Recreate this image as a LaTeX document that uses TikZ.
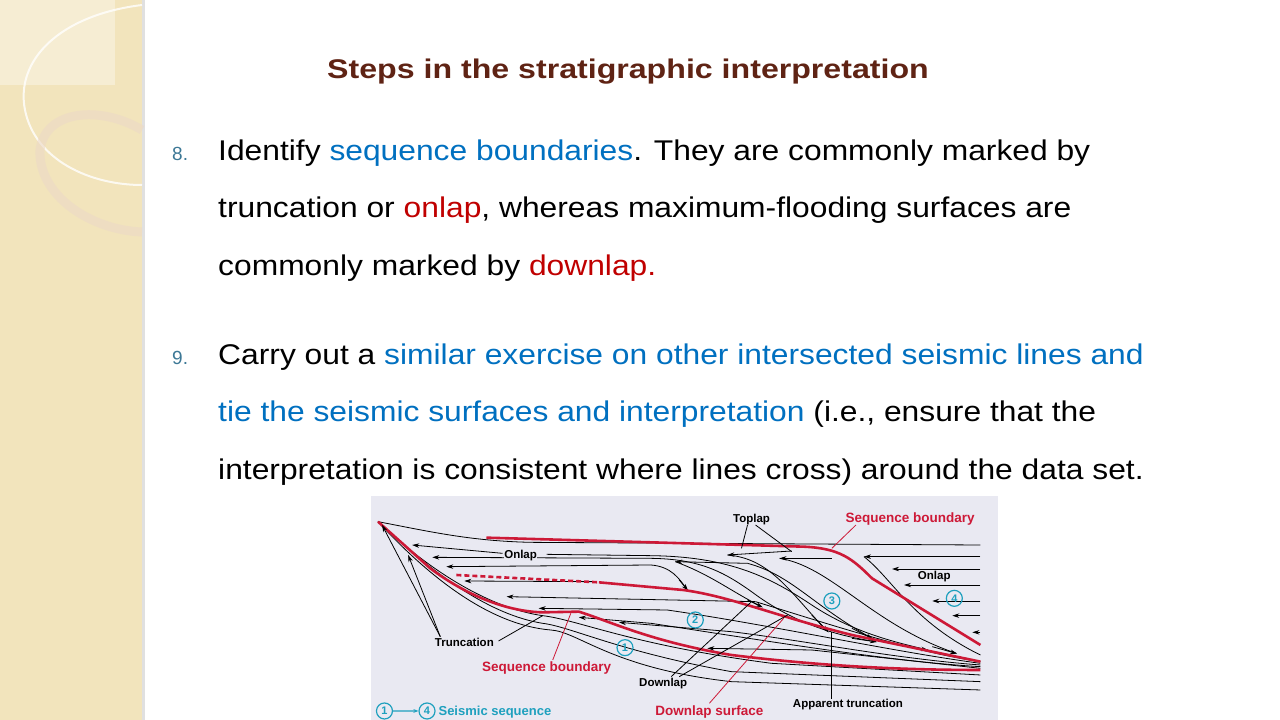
\documentclass[tikz,border=0pt]{standalone}
\usepackage{fontspec}
\setmainfont{Liberation Sans}
\usetikzlibrary{arrows.meta}
\definecolor{tblue}{RGB}{0,112,192}
\definecolor{tred}{RGB}{192,0,0}
\definecolor{ttitle}{RGB}{95,35,20}
\definecolor{tnum}{RGB}{60,120,150}
\definecolor{beige}{RGB}{242,228,188}
\definecolor{dbg}{RGB}{233,233,242}
\definecolor{sred}{RGB}{205,25,55}
\definecolor{scyan}{RGB}{30,160,190}
\begin{document}
\begin{tikzpicture}[x=1pt,y=-1pt,
  body/.style={anchor=base west,font=\fontsize{28.5}{30}\selectfont,inner sep=0,xscale=1.115},
  num/.style={anchor=base west,font=\fontsize{19}{20}\selectfont,text=tnum,inner sep=0},
  lab/.style={font=\bfseries\fontsize{11.5}{12}\selectfont,inner sep=1pt},
  rlab/.style={font=\bfseries\fontsize{13.5}{14}\selectfont,text=sred,inner sep=1pt},
  bl/.style={line width=0.8pt,black},
  rl/.style={line width=2.6pt,sred},
  ar/.style={-{Stealth[length=7pt,width=4.5pt]}},
  seq/.style={circle,draw=scyan,line width=1.2pt,text=scyan,font=\bfseries\fontsize{11}{11}\selectfont,inner sep=0,minimum size=16pt}]
\useasboundingbox (0,0) rectangle (1280,720);
\fill[white] (0,0) rectangle (1280,720);
\fill[beige] (0,0) rectangle (142,720);
\fill[black!12] (142,0) rectangle (145,720);
\draw[white,line width=2pt,opacity=0.8] (142,5) .. controls (60,15) and (15,60) .. (25,110) .. controls (35,160) and (90,185) .. (142,185);
\draw[brown!30,line width=9pt,opacity=0.6] (142,130) .. controls (100,105) and (45,110) .. (40,150) .. controls (38,195) and (90,230) .. (142,232);
\fill[white,opacity=0.35] (0,0) rectangle (115,85);
%
\node[font=\bfseries\fontsize{27}{28}\selectfont,text=ttitle,xscale=1.19] (title) at (628,72) {Steps in the stratigraphic interpretation};
\node[num] (n8) at (172,160) {8.};
\node[body] (l1) at (218,160) {Identify \textcolor{tblue}{sequence boundaries}. They are commonly marked by};
\node[body] (l2) at (218,217) {truncation or \textcolor{tred}{onlap}, whereas maximum-flooding surfaces are};
\node[body] (l3) at (218,275) {commonly marked by \textcolor{tred}{downlap.}};
\node[num] (n9) at (172,364) {9.};
\node[body] (l4) at (218,364) {Carry out a \textcolor{tblue}{similar exercise on other intersected seismic lines and}};
\node[body] (l5) at (218,421) {\textcolor{tblue}{tie the seismic surfaces and interpretation} (i.e., ensure that the};
\node[body] (l6) at (218,479) {interpretation is consistent where lines cross) around the data set.};
%
\fill[dbg] (371,496) rectangle (998,720);
\begin{scope}[shift={(370,495)},xscale=0.4016,yscale=0.3333]
% bottom lines
\draw[bl] (20,80) .. controls (150,250) and (300,390) .. (450,405) .. controls (520,410) and (600,520) .. (900,560) -- (1520,585);
\draw[bl] (20,80) .. controls (160,240) and (300,360) .. (430,385) .. controls (500,395) and (620,470) .. (900,530) -- (1520,560);
\draw[bl] (20,80) .. controls (150,230) and (300,340) .. (430,362) .. controls (520,375) and (650,450) .. (1000,505) -- (1520,540);
% top line
\draw[bl] (20,80) .. controls (150,110) and (250,138) .. (400,142) -- (1520,150);
% right onlap lines
\foreach \y/\xs in {185/1230,222/1300,270/1330,318/1400,362/1450,412/1500}{
  \draw[bl,ar] (1520,\y) -- (\xs,\y);}
% left onlap/clinoform lines
\draw[bl,ar] (330,175) -- (105,150);
\draw[bl] (440,178) -- (700,182) .. controls (900,185) and (1000,250) .. (1100,330) .. controls (1200,410) and (1300,440) .. (1390,465);
\draw[bl,ar] (1300,445) -- (1390,466);
\draw[bl,ar] (700,190) -- (155,187);
\draw[bl] (700,190) .. controls (820,192) and (880,230) .. (950,290) .. controls (1050,380) and (1150,420) .. (1260,440);
\draw[bl,ar] (1200,430) -- (1262,441);
\draw[bl,ar] (700,210) -- (190,215);
\draw[bl] (700,210) .. controls (750,215) and (770,250) .. (790,285);
\draw[bl,ar] (770,255) -- (792,287);
% toplap clinoforms from top boundary
\draw[bl,ar] (1050,168) -- (890,180);
\draw[bl] (890,180) .. controls (1000,190) and (1050,300) .. (1140,410);
\draw[bl,ar] (1100,360) -- (1142,412);
\draw[bl,ar] (1150,190) -- (1020,190);
\draw[bl] (1020,190) .. controls (1150,215) and (1250,390) .. (1460,475);
\draw[bl,ar] (1400,455) -- (1462,476);
\draw[bl] (1230,185) .. controls (1300,250) and (1350,380) .. (1520,480);
\draw[bl,ar] (940,205) -- (760,200);
\draw[bl] (940,205) .. controls (1050,240) and (1100,330) .. (1250,430);
\draw[bl,ar] (1200,400) -- (1252,432);
\draw[bl] (760,200) .. controls (850,240) and (900,290) .. (975,335);
\draw[bl,ar] (940,315) -- (978,337);
% sequence 2 lines
\draw[bl,ar] (560,260) -- (235,258);
\draw[bl,ar] (960,320) -- (340,305);
\draw[bl] (960,320) .. controls (1150,390) and (1350,470) .. (1520,500);
\draw[bl,ar] (740,345) -- (420,340);
\draw[bl] (740,345) .. controls (1000,390) and (1300,470) .. (1520,505);
% sequence 1 lines
\draw[bl,ar] (700,385) -- (520,367);
\draw[bl] (700,385) .. controls (1000,440) and (1300,500) .. (1520,515);
\draw[bl,ar] (900,410) -- (620,382);
\draw[bl] (900,410) .. controls (1100,440) and (1300,490) .. (1520,510);
\draw[bl,ar] (1100,465) -- (840,460);
\draw[bl] (1100,465) -- (1520,520);
% red surfaces
\draw[rl] (290,128) -- (1080,155) .. controls (1170,160) and (1200,190) .. (1250,250) -- (1520,450);
\draw[sred,line width=2.6pt,dash pattern=on 5pt off 3pt] (215,240) -- (570,262);
\draw[rl] (570,262) -- (780,285) .. controls (900,305) and (1000,360) .. (1200,420) -- (1520,500);
\draw[rl] (20,80) -- (150,220) .. controls (250,310) and (350,350) .. (430,352) -- (520,350) .. controls (600,380) and (700,440) .. (900,480) .. controls (1100,510) and (1300,525) .. (1520,525);
% labels and pointers
\node[lab] (toplap) at (950,75) {Toplap};
\draw[bl] (940,90) -- (925,160);
\draw[bl] (960,90) -- (1050,170);
\node[rlab] (sb1) at (1345,72) {Sequence boundary};
\draw[sred,line width=0.8pt] (1210,90) -- (1150,160);
\node[lab,fill=dbg,inner sep=0.5pt] (onl1) at (375,182) {Onlap};
\node[lab] (onl2) at (1405,245) {Onlap};
\node[lab] (trunc) at (235,442) {Truncation};
\draw[bl,ar] (175,425) -- (30,90);
\draw[bl,ar] (175,425) -- (95,180);
\draw[bl] (320,438) -- (430,362);
\node[rlab] (sb2) at (440,520) {Sequence boundary};
\draw[sred,line width=0.8pt] (455,495) -- (500,355);
\node[lab] (downlap) at (730,565) {Downlap};
\draw[bl] (750,545) -- (950,320);
\draw[bl] (770,545) -- (1040,360);
\node[rlab] (dls) at (845,650) {Downlap surface};
\draw[sred,line width=0.8pt] (845,625) -- (1030,370);
\node[lab] (apt) at (1190,630) {Apparent truncation};
\draw[bl] (1150,612) -- (1150,410);
\node[seq] (s1) at (635,458) {1};
\node[seq] (s2) at (810,375) {2};
\node[seq] (s3) at (1150,318) {3};
\node[seq] (s4) at (1455,310) {4};
\node[seq] (lg1) at (36,648) {1};
\node[seq] (lg4) at (142,648) {4};
\draw[scyan,line width=1.3pt,-{Stealth[length=5pt]}] (lg1) -- (lg4);
\node[font=\bfseries\fontsize{13}{13}\selectfont,text=scyan,anchor=west] (lgt) at (162,650) {Seismic sequence};
\end{scope}
\end{tikzpicture}
\end{document}
